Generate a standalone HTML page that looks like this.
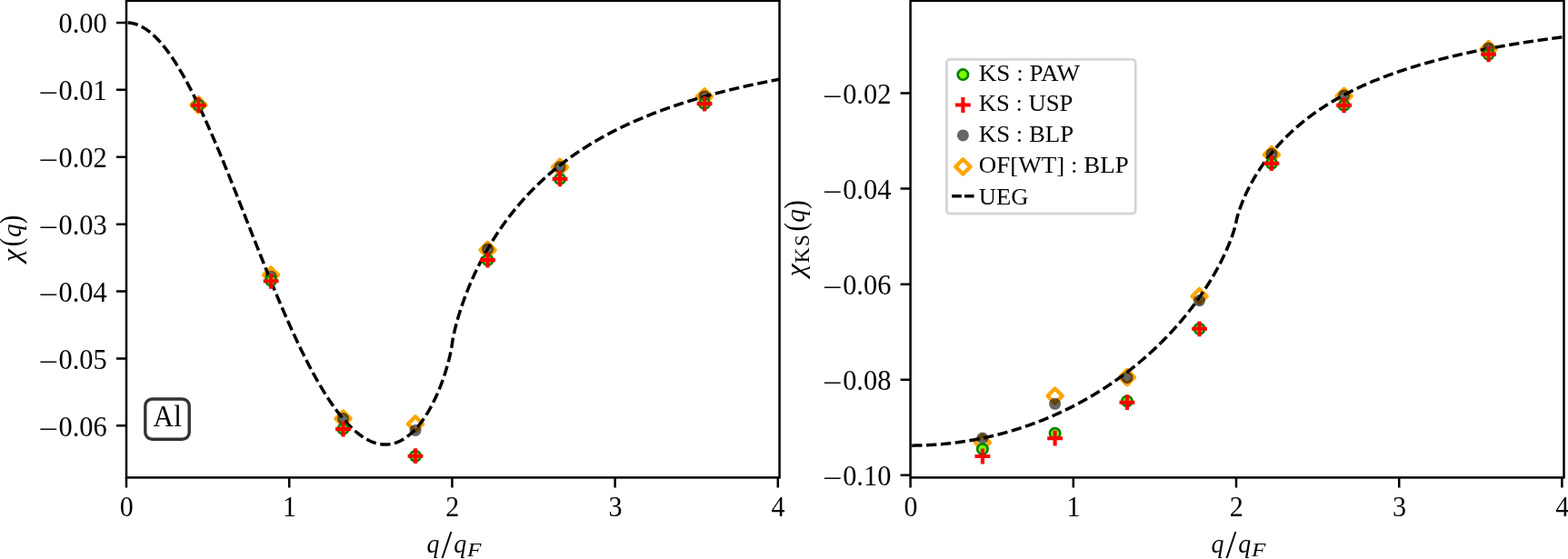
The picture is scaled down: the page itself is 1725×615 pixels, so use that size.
<!DOCTYPE html>
<html lang="en"><head><meta charset="utf-8"><title>Response functions of Al</title>
<style>html,body{margin:0;padding:0;background:#fff;overflow:hidden}svg{display:block}</style></head>
<body>
<svg width="1725" height="615" viewBox="0 0 1725 615" font-family='"Liberation Serif", serif' fill="#000">
<rect x="0" y="0" width="1725" height="615" fill="#fff"/>
<defs>
<clipPath id="clip1"><rect x="139" y="0.85" width="718.55" height="524.55"/></clipPath>
<clipPath id="clip2"><rect x="1001.6" y="0.85" width="718.9" height="524.55"/></clipPath>
</defs>
<g clip-path="url(#clip1)">
<path d="M218.4 107.3L226.5 115.4L218.4 123.5L210.3 115.4Z" fill="none" stroke="#ffa500" stroke-width="4.3" stroke-linejoin="round"/>
<path d="M298.1 294.4L306.2 302.5L298.1 310.6L290 302.5Z" fill="none" stroke="#ffa500" stroke-width="4.3" stroke-linejoin="round"/>
<path d="M377.5 452.5L385.6 460.6L377.5 468.7L369.4 460.6Z" fill="none" stroke="#ffa500" stroke-width="4.3" stroke-linejoin="round"/>
<path d="M457 458.3L465.1 466.4L457 474.5L448.9 466.4Z" fill="none" stroke="#ffa500" stroke-width="4.3" stroke-linejoin="round"/>
<path d="M536.5 266.8L544.6 274.9L536.5 283L528.4 274.9Z" fill="none" stroke="#ffa500" stroke-width="4.3" stroke-linejoin="round"/>
<path d="M616 175.8L624.1 183.9L616 192L607.9 183.9Z" fill="none" stroke="#ffa500" stroke-width="4.3" stroke-linejoin="round"/>
<path d="M775.05 98.2L783.15 106.3L775.05 114.4L766.95 106.3Z" fill="none" stroke="#ffa500" stroke-width="4.3" stroke-linejoin="round"/>
</g>
<polyline clip-path="url(#clip1)" points="139.00,24.90 139.60,24.91 140.20,24.92 140.80,24.95 141.40,24.99 142.00,25.04 142.60,25.10 143.20,25.18 143.79,25.26 144.39,25.36 144.99,25.46 145.59,25.58 146.19,25.71 146.79,25.85 147.39,26.00 147.99,26.17 148.59,26.34 149.19,26.53 149.79,26.72 150.39,26.93 150.99,27.15 151.59,27.38 152.19,27.62 152.78,27.87 153.38,28.14 153.98,28.41 154.58,28.70 155.18,29.00 155.78,29.30 156.38,29.62 156.98,29.95 157.58,30.29 158.18,30.64 158.78,31.01 159.38,31.38 159.98,31.76 160.58,32.16 161.18,32.57 161.77,32.98 162.37,33.41 162.97,33.85 163.57,34.30 164.17,34.76 164.77,35.23 165.37,35.71 165.97,36.20 166.57,36.70 167.17,37.22 167.77,37.74 168.37,38.28 168.97,38.82 169.57,39.38 170.16,39.94 170.76,40.52 171.36,41.10 171.96,41.70 172.56,42.31 173.16,42.92 173.76,43.55 174.36,44.19 174.96,44.84 175.56,45.49 176.16,46.16 176.76,46.84 177.36,47.53 177.96,48.22 178.56,48.93 179.15,49.65 179.75,50.38 180.35,51.11 180.95,51.86 181.55,52.61 182.15,53.38 182.75,54.16 183.35,54.94 183.95,55.74 184.55,56.54 185.15,57.35 185.75,58.18 186.35,59.01 186.95,59.85 187.55,60.70 188.14,61.56 188.74,62.43 189.34,63.31 189.94,64.19 190.54,65.09 191.14,65.99 191.74,66.91 192.34,67.83 192.94,68.76 193.54,69.70 194.14,70.65 194.74,71.61 195.34,72.57 195.94,73.55 196.54,74.53 197.13,75.52 197.73,76.52 198.33,77.53 198.93,78.54 199.53,79.57 200.13,80.60 200.73,81.64 201.33,82.69 201.93,83.75 202.53,84.81 203.13,85.88 203.73,86.96 204.33,88.05 204.93,89.14 205.53,90.24 206.12,91.35 206.72,92.47 207.32,93.60 207.92,94.73 208.52,95.87 209.12,97.01 209.72,98.17 210.32,99.33 210.92,100.50 211.52,101.67 212.12,102.85 212.72,104.04 213.32,105.24 213.92,106.44 214.52,107.65 215.11,108.86 215.71,110.08 216.31,111.31 216.91,112.55 217.51,113.79 218.11,115.03 218.71,116.29 219.31,117.54 219.91,118.81 220.51,120.08 221.11,121.36 221.71,122.64 222.31,123.93 222.91,125.22 223.50,126.52 224.10,127.83 224.70,129.14 225.30,130.46 225.90,131.78 226.50,133.10 227.10,134.44 227.70,135.77 228.30,137.12 228.90,138.46 229.50,139.82 230.10,141.17 230.70,142.54 231.30,143.90 231.90,145.27 232.49,146.65 233.09,148.03 233.69,149.41 234.29,150.80 234.89,152.20 235.49,153.60 236.09,155.00 236.69,156.40 237.29,157.81 237.89,159.23 238.49,160.65 239.09,162.07 239.69,163.49 240.29,164.92 240.89,166.36 241.48,167.79 242.08,169.23 242.68,170.68 243.28,172.12 243.88,173.57 244.48,175.03 245.08,176.48 245.68,177.94 246.28,179.40 246.88,180.87 247.48,182.34 248.08,183.81 248.68,185.28 249.28,186.76 249.88,188.23 250.47,189.72 251.07,191.20 251.67,192.69 252.27,194.17 252.87,195.66 253.47,197.16 254.07,198.65 254.67,200.15 255.27,201.65 255.87,203.15 256.47,204.65 257.07,206.15 257.67,207.66 258.27,209.16 258.87,210.67 259.46,212.18 260.06,213.69 260.66,215.21 261.26,216.72 261.86,218.23 262.46,219.75 263.06,221.27 263.66,222.79 264.26,224.30 264.86,225.82 265.46,227.34 266.06,228.87 266.66,230.39 267.26,231.91 267.86,233.43 268.45,234.96 269.05,236.48 269.65,238.00 270.25,239.53 270.85,241.05 271.45,242.58 272.05,244.10 272.65,245.62 273.25,247.15 273.85,248.67 274.45,250.20 275.05,251.72 275.65,253.24 276.25,254.76 276.85,256.29 277.44,257.81 278.04,259.33 278.64,260.85 279.24,262.37 279.84,263.89 280.44,265.40 281.04,266.92 281.64,268.44 282.24,269.95 282.84,271.46 283.44,272.98 284.04,274.49 284.64,276.00 285.24,277.51 285.83,279.01 286.43,280.52 287.03,282.02 287.63,283.52 288.23,285.02 288.83,286.52 289.43,288.02 290.03,289.51 290.63,291.01 291.23,292.50 291.83,293.99 292.43,295.47 293.03,296.96 293.63,298.44 294.23,299.92 294.82,301.40 295.42,302.87 296.02,304.34 296.62,305.81 297.22,307.28 297.82,308.75 298.42,310.21 299.02,311.67 299.62,313.13 300.22,314.58 300.82,316.03 301.42,317.48 302.02,318.92 302.62,320.37 303.22,321.80 303.81,323.24 304.41,324.67 305.01,326.10 305.61,327.53 306.21,328.95 306.81,330.37 307.41,331.78 308.01,333.19 308.61,334.60 309.21,336.01 309.81,337.41 310.41,338.80 311.01,340.20 311.61,341.59 312.21,342.97 312.80,344.35 313.40,345.73 314.00,347.10 314.60,348.47 315.20,349.84 315.80,351.20 316.40,352.55 317.00,353.90 317.60,355.25 318.20,356.59 318.80,357.93 319.40,359.27 320.00,360.60 320.60,361.92 321.20,363.24 321.79,364.56 322.39,365.87 322.99,367.17 323.59,368.48 324.19,369.77 324.79,371.06 325.39,372.35 325.99,373.63 326.59,374.91 327.19,376.18 327.79,377.44 328.39,378.71 328.99,379.96 329.59,381.21 330.19,382.46 330.78,383.70 331.38,384.93 331.98,386.16 332.58,387.38 333.18,388.60 333.78,389.81 334.38,391.02 334.98,392.22 335.58,393.41 336.18,394.60 336.78,395.79 337.38,396.96 337.98,398.14 338.58,399.30 339.17,400.46 339.77,401.62 340.37,402.76 340.97,403.91 341.57,405.04 342.17,406.17 342.77,407.29 343.37,408.41 343.97,409.52 344.57,410.63 345.17,411.73 345.77,412.82 346.37,413.90 346.97,414.98 347.57,416.06 348.16,417.12 348.76,418.18 349.36,419.24 349.96,420.28 350.56,421.32 351.16,422.36 351.76,423.38 352.36,424.40 352.96,425.42 353.56,426.42 354.16,427.42 354.76,428.41 355.36,429.40 355.96,430.38 356.56,431.35 357.15,432.31 357.75,433.27 358.35,434.22 358.95,435.17 359.55,436.10 360.15,437.03 360.75,437.95 361.35,438.87 361.95,439.77 362.55,440.67 363.15,441.57 363.75,442.45 364.35,443.33 364.95,444.20 365.55,445.06 366.14,445.92 366.74,446.77 367.34,447.61 367.94,448.44 368.54,449.27 369.14,450.09 369.74,450.90 370.34,451.70 370.94,452.49 371.54,453.28 372.14,454.06 372.74,454.83 373.34,455.59 373.94,456.35 374.54,457.10 375.13,457.84 375.73,458.57 376.33,459.29 376.93,460.01 377.53,460.72 378.13,461.42 378.73,462.11 379.33,462.79 379.93,463.47 380.53,464.14 381.13,464.80 381.73,465.45 382.33,466.09 382.93,466.72 383.53,467.35 384.12,467.97 384.72,468.58 385.32,469.18 385.92,469.77 386.52,470.36 387.12,470.93 387.72,471.50 388.32,472.06 388.92,472.61 389.52,473.15 390.12,473.69 390.72,474.21 391.32,474.73 391.92,475.23 392.51,475.73 393.11,476.22 393.71,476.70 394.31,477.18 394.91,477.64 395.51,478.10 396.11,478.54 396.71,478.98 397.31,479.41 397.91,479.83 398.51,480.24 399.11,480.64 399.71,481.03 400.31,481.41 400.91,481.79 401.50,482.15 402.10,482.51 402.70,482.86 403.30,483.20 403.90,483.52 404.50,483.84 405.10,484.15 405.70,484.46 406.30,484.75 406.90,485.03 407.50,485.30 408.10,485.57 408.70,485.82 409.30,486.07 409.90,486.30 410.49,486.53 411.09,486.74 411.69,486.95 412.29,487.15 412.89,487.34 413.49,487.51 414.09,487.68 414.69,487.84 415.29,487.99 415.89,488.13 416.49,488.26 417.09,488.38 417.69,488.49 418.29,488.59 418.89,488.68 419.48,488.76 420.08,488.83 420.68,488.89 421.28,488.94 421.88,488.98 422.48,489.01 423.08,489.03 423.68,489.04 424.28,489.04 424.88,489.03 425.48,489.01 426.08,488.97 426.68,488.93 427.28,488.88 427.88,488.82 428.47,488.74 429.07,488.66 429.67,488.57 430.27,488.46 430.87,488.35 431.47,488.22 432.07,488.08 432.67,487.94 433.27,487.78 433.87,487.61 434.47,487.43 435.07,487.24 435.67,487.03 436.27,486.82 436.87,486.60 437.46,486.36 438.06,486.11 438.66,485.86 439.26,485.59 439.86,485.31 440.46,485.02 441.06,484.71 441.66,484.40 442.26,484.07 442.86,483.73 443.46,483.38 444.06,483.02 444.66,482.65 445.26,482.26 445.85,481.86 446.45,481.45 447.05,481.03 447.65,480.60 448.25,480.15 448.85,479.69 449.45,479.22 450.05,478.74 450.65,478.24 451.25,477.74 451.85,477.21 452.45,476.68 453.05,476.13 453.65,475.57 454.25,475.00 454.84,474.41 455.44,473.81 456.04,473.20 456.64,472.57 457.24,471.93 457.84,471.28 458.44,470.61 459.04,469.93 459.64,469.23 460.24,468.52 460.84,467.79 461.44,467.05 462.04,466.30 462.64,465.53 463.24,464.74 463.83,463.94 464.43,463.13 465.03,462.30 465.63,461.45 466.23,460.59 466.83,459.71 467.43,458.81 468.03,457.90 468.63,456.97 469.23,456.02 469.83,455.06 470.43,454.08 471.03,453.08 471.63,452.06 472.23,451.03 472.82,449.98 473.42,448.90 474.02,447.81 474.62,446.70 475.22,445.56 475.82,444.41 476.42,443.24 477.02,442.04 477.62,440.82 478.22,439.58 478.82,438.32 479.42,437.03 480.02,435.72 480.62,434.39 481.22,433.03 481.81,431.64 482.41,430.22 483.01,428.78 483.61,427.31 484.21,425.80 484.81,424.27 485.41,422.70 486.01,421.10 486.61,419.47 487.21,417.79 487.81,416.08 488.41,414.33 489.01,412.53 489.61,410.68 490.21,408.79 490.80,406.84 491.40,404.83 492.00,402.76 492.60,400.62 493.20,398.40 493.80,396.09 494.40,393.67 495.00,391.13 495.60,388.44 496.20,385.54 496.80,382.32 497.40,378.28 498.00,374.19 498.60,370.96 499.19,368.04 499.79,365.33 500.39,362.76 500.99,360.31 501.59,357.96 502.19,355.70 502.79,353.51 503.39,351.38 503.99,349.31 504.59,347.30 505.19,345.33 505.79,343.41 506.39,341.53 506.99,339.69 507.59,337.88 508.18,336.11 508.78,334.37 509.38,332.66 509.98,330.98 510.58,329.32 511.18,327.69 511.78,326.09 512.38,324.51 512.98,322.95 513.58,321.41 514.18,319.90 514.78,318.40 515.38,316.93 515.98,315.47 516.58,314.03 517.17,312.61 517.77,311.21 518.37,309.82 518.97,308.45 519.57,307.09 520.17,305.75 520.77,304.42 521.37,303.11 521.97,301.81 522.57,300.53 523.17,299.26 523.77,298.00 524.37,296.75 524.97,295.52 525.57,294.30 526.16,293.09 526.76,291.89 527.36,290.71 527.96,289.53 528.56,288.36 529.16,287.21 529.76,286.07 530.36,284.93 530.96,283.81 531.56,282.69 532.16,281.59 532.76,280.49 533.36,279.41 533.96,278.33 534.56,277.26 535.15,276.20 535.75,275.15 536.35,274.11 536.95,273.08 537.55,272.05 538.15,271.04 538.75,270.03 539.35,269.03 539.95,268.03 540.55,267.05 541.15,266.07 541.75,265.10 542.35,264.13 542.95,263.18 543.55,262.23 544.14,261.29 544.74,260.35 545.34,259.42 545.94,258.50 546.54,257.58 547.14,256.67 547.74,255.77 548.34,254.88 548.94,253.99 549.54,253.10 550.14,252.22 550.74,251.35 551.34,250.49 551.94,249.63 552.54,248.77 553.13,247.93 553.73,247.08 554.33,246.25 554.93,245.41 555.53,244.59 556.13,243.77 556.73,242.95 557.33,242.14 557.93,241.34 558.53,240.54 559.13,239.75 559.73,238.96 560.33,238.17 560.93,237.39 561.52,236.62 562.12,235.85 562.72,235.08 563.32,234.32 563.92,233.57 564.52,232.82 565.12,232.07 565.72,231.33 566.32,230.60 566.92,229.86 567.52,229.14 568.12,228.41 568.72,227.69 569.32,226.98 569.92,226.27 570.51,225.56 571.11,224.86 571.71,224.16 572.31,223.47 572.91,222.78 573.51,222.09 574.11,221.41 574.71,220.73 575.31,220.06 575.91,219.39 576.51,218.72 577.11,218.06 577.71,217.40 578.31,216.74 578.91,216.09 579.50,215.44 580.10,214.80 580.70,214.16 581.30,213.52 581.90,212.89 582.50,212.26 583.10,211.63 583.70,211.01 584.30,210.39 584.90,209.77 585.50,209.16 586.10,208.55 586.70,207.95 587.30,207.34 587.90,206.74 588.49,206.15 589.09,205.55 589.69,204.96 590.29,204.38 590.89,203.79 591.49,203.21 592.09,202.63 592.69,202.06 593.29,201.49 593.89,200.92 594.49,200.35 595.09,199.79 595.69,199.23 596.29,198.67 596.89,198.12 597.48,197.57 598.08,197.02 598.68,196.48 599.28,195.93 599.88,195.39 600.48,194.86 601.08,194.32 601.68,193.79 602.28,193.26 602.88,192.74 603.48,192.21 604.08,191.69 604.68,191.17 605.28,190.66 605.88,190.14 606.47,189.63 607.07,189.12 607.67,188.62 608.27,188.12 608.87,187.62 609.47,187.12 610.07,186.62 610.67,186.13 611.27,185.64 611.87,185.15 612.47,184.66 613.07,184.18 613.67,183.70 614.27,183.22 614.86,182.74 615.46,182.27 616.06,181.79 616.66,181.32 617.26,180.86 617.86,180.39 618.46,179.93 619.06,179.47 619.66,179.01 620.26,178.55 620.86,178.10 621.46,177.64 622.06,177.19 622.66,176.75 623.26,176.30 623.85,175.86 624.45,175.41 625.05,174.97 625.65,174.54 626.25,174.10 626.85,173.67 627.45,173.23 628.05,172.80 628.65,172.38 629.25,171.95 629.85,171.53 630.45,171.10 631.05,170.68 631.65,170.27 632.25,169.85 632.84,169.43 633.44,169.02 634.04,168.61 634.64,168.20 635.24,167.80 635.84,167.39 636.44,166.99 637.04,166.59 637.64,166.19 638.24,165.79 638.84,165.39 639.44,165.00 640.04,164.60 640.64,164.21 641.24,163.82 641.83,163.44 642.43,163.05 643.03,162.67 643.63,162.28 644.23,161.90 644.83,161.52 645.43,161.15 646.03,160.77 646.63,160.40 647.23,160.02 647.83,159.65 648.43,159.28 649.03,158.91 649.63,158.55 650.23,158.18 650.82,157.82 651.42,157.46 652.02,157.10 652.62,156.74 653.22,156.38 653.82,156.03 654.42,155.67 655.02,155.32 655.62,154.97 656.22,154.62 656.82,154.27 657.42,153.93 658.02,153.58 658.62,153.24 659.22,152.90 659.81,152.55 660.41,152.22 661.01,151.88 661.61,151.54 662.21,151.21 662.81,150.87 663.41,150.54 664.01,150.21 664.61,149.88 665.21,149.55 665.81,149.22 666.41,148.90 667.01,148.57 667.61,148.25 668.20,147.93 668.80,147.61 669.40,147.29 670.00,146.97 670.60,146.66 671.20,146.34 671.80,146.03 672.40,145.71 673.00,145.40 673.60,145.09 674.20,144.78 674.80,144.48 675.40,144.17 676.00,143.86 676.60,143.56 677.19,143.26 677.79,142.96 678.39,142.65 678.99,142.36 679.59,142.06 680.19,141.76 680.79,141.47 681.39,141.17 681.99,140.88 682.59,140.58 683.19,140.29 683.79,140.00 684.39,139.72 684.99,139.43 685.59,139.14 686.18,138.86 686.78,138.57 687.38,138.29 687.98,138.01 688.58,137.73 689.18,137.45 689.78,137.17 690.38,136.89 690.98,136.61 691.58,136.34 692.18,136.06 692.78,135.79 693.38,135.52 693.98,135.24 694.58,134.97 695.17,134.70 695.77,134.44 696.37,134.17 696.97,133.90 697.57,133.64 698.17,133.37 698.77,133.11 699.37,132.85 699.97,132.59 700.57,132.33 701.17,132.07 701.77,131.81 702.37,131.55 702.97,131.29 703.57,131.04 704.16,130.78 704.76,130.53 705.36,130.28 705.96,130.03 706.56,129.77 707.16,129.52 707.76,129.28 708.36,129.03 708.96,128.78 709.56,128.53 710.16,128.29 710.76,128.04 711.36,127.80 711.96,127.56 712.56,127.32 713.15,127.08 713.75,126.84 714.35,126.60 714.95,126.36 715.55,126.12 716.15,125.88 716.75,125.65 717.35,125.41 717.95,125.18 718.55,124.95 719.15,124.71 719.75,124.48 720.35,124.25 720.95,124.02 721.54,123.79 722.14,123.56 722.74,123.34 723.34,123.11 723.94,122.89 724.54,122.66 725.14,122.44 725.74,122.21 726.34,121.99 726.94,121.77 727.54,121.55 728.14,121.33 728.74,121.11 729.34,120.89 729.94,120.67 730.53,120.45 731.13,120.24 731.73,120.02 732.33,119.81 732.93,119.59 733.53,119.38 734.13,119.17 734.73,118.96 735.33,118.74 735.93,118.53 736.53,118.32 737.13,118.12 737.73,117.91 738.33,117.70 738.93,117.49 739.52,117.29 740.12,117.08 740.72,116.88 741.32,116.67 741.92,116.47 742.52,116.27 743.12,116.06 743.72,115.86 744.32,115.66 744.92,115.46 745.52,115.26 746.12,115.07 746.72,114.87 747.32,114.67 747.92,114.47 748.51,114.28 749.11,114.08 749.71,113.89 750.31,113.69 750.91,113.50 751.51,113.31 752.11,113.12 752.71,112.93 753.31,112.73 753.91,112.54 754.51,112.36 755.11,112.17 755.71,111.98 756.31,111.79 756.91,111.60 757.50,111.42 758.10,111.23 758.70,111.05 759.30,110.86 759.90,110.68 760.50,110.50 761.10,110.31 761.70,110.13 762.30,109.95 762.90,109.77 763.50,109.59 764.10,109.41 764.70,109.23 765.30,109.05 765.90,108.87 766.49,108.70 767.09,108.52 767.69,108.34 768.29,108.17 768.89,107.99 769.49,107.82 770.09,107.65 770.69,107.47 771.29,107.30 771.89,107.13 772.49,106.96 773.09,106.78 773.69,106.61 774.29,106.44 774.88,106.27 775.48,106.11 776.08,105.94 776.68,105.77 777.28,105.60 777.88,105.44 778.48,105.27 779.08,105.10 779.68,104.94 780.28,104.77 780.88,104.61 781.48,104.45 782.08,104.28 782.68,104.12 783.28,103.96 783.87,103.80 784.47,103.64 785.07,103.47 785.67,103.31 786.27,103.16 786.87,103.00 787.47,102.84 788.07,102.68 788.67,102.52 789.27,102.36 789.87,102.21 790.47,102.05 791.07,101.90 791.67,101.74 792.27,101.59 792.86,101.43 793.46,101.28 794.06,101.13 794.66,100.97 795.26,100.82 795.86,100.67 796.46,100.52 797.06,100.37 797.66,100.22 798.26,100.07 798.86,99.92 799.46,99.77 800.06,99.62 800.66,99.47 801.26,99.32 801.85,99.18 802.45,99.03 803.05,98.88 803.65,98.74 804.25,98.59 804.85,98.45 805.45,98.30 806.05,98.16 806.65,98.01 807.25,97.87 807.85,97.73 808.45,97.59 809.05,97.44 809.65,97.30 810.25,97.16 810.84,97.02 811.44,96.88 812.04,96.74 812.64,96.60 813.24,96.46 813.84,96.32 814.44,96.18 815.04,96.05 815.64,95.91 816.24,95.77 816.84,95.64 817.44,95.50 818.04,95.36 818.64,95.23 819.24,95.09 819.83,94.96 820.43,94.82 821.03,94.69 821.63,94.56 822.23,94.42 822.83,94.29 823.43,94.16 824.03,94.03 824.63,93.90 825.23,93.77 825.83,93.63 826.43,93.50 827.03,93.37 827.63,93.24 828.23,93.12 828.82,92.99 829.42,92.86 830.02,92.73 830.62,92.60 831.22,92.48 831.82,92.35 832.42,92.22 833.02,92.10 833.62,91.97 834.22,91.84 834.82,91.72 835.42,91.59 836.02,91.47 836.62,91.35 837.21,91.22 837.81,91.10 838.41,90.98 839.01,90.85 839.61,90.73 840.21,90.61 840.81,90.49 841.41,90.37 842.01,90.24 842.61,90.12 843.21,90.00 843.81,89.88 844.41,89.76 845.01,89.65 845.61,89.53 846.20,89.41 846.80,89.29 847.40,89.17 848.00,89.05 848.60,88.94 849.20,88.82 849.80,88.70 850.40,88.59 851.00,88.47 851.60,88.36 852.20,88.24 852.80,88.12 853.40,88.01 854.00,87.90 854.60,87.78 855.19,87.67 855.79,87.55 856.39,87.44 856.99,87.33 857.59,87.22" fill="none" stroke="#000" stroke-width="3.5" stroke-dasharray="11.29 4.58" stroke-dashoffset="-1.6" stroke-linejoin="round"/>
<g clip-path="url(#clip1)">
<circle cx="218.4" cy="115.4" r="6.5" fill="#000" fill-opacity="0.6"/>
<circle cx="298.1" cy="304.3" r="6.5" fill="#000" fill-opacity="0.6"/>
<circle cx="377.5" cy="460.6" r="6.5" fill="#000" fill-opacity="0.6"/>
<circle cx="457" cy="473.4" r="6.5" fill="#000" fill-opacity="0.6"/>
<circle cx="536.5" cy="273.9" r="6.5" fill="#000" fill-opacity="0.6"/>
<circle cx="616" cy="183.8" r="6.5" fill="#000" fill-opacity="0.6"/>
<circle cx="775.05" cy="105.9" r="6.5" fill="#000" fill-opacity="0.6"/>
<circle cx="218.4" cy="115.6" r="5.7" fill="#7cfc00" stroke="#008000" stroke-width="2.6"/>
<circle cx="298.1" cy="308.6" r="5.7" fill="#7cfc00" stroke="#008000" stroke-width="2.6"/>
<circle cx="377.5" cy="471.9" r="5.7" fill="#7cfc00" stroke="#008000" stroke-width="2.6"/>
<circle cx="457" cy="501.7" r="5.7" fill="#7cfc00" stroke="#008000" stroke-width="2.6"/>
<circle cx="536.5" cy="286.1" r="5.7" fill="#7cfc00" stroke="#008000" stroke-width="2.6"/>
<circle cx="616" cy="196.9" r="5.7" fill="#7cfc00" stroke="#008000" stroke-width="2.6"/>
<circle cx="775.05" cy="114.1" r="5.7" fill="#7cfc00" stroke="#008000" stroke-width="2.6"/>
<path d="M210 115.7H226.8M218.4 107.3V124.1" fill="none" stroke="#ff0000" stroke-width="4.1"/>
<path d="M289.7 309.3H306.5M298.1 300.9V317.7" fill="none" stroke="#ff0000" stroke-width="4.1"/>
<path d="M369.1 472.1H385.9M377.5 463.7V480.5" fill="none" stroke="#ff0000" stroke-width="4.1"/>
<path d="M448.6 501.7H465.4M457 493.3V510.1" fill="none" stroke="#ff0000" stroke-width="4.1"/>
<path d="M528.1 286.1H544.9M536.5 277.7V294.5" fill="none" stroke="#ff0000" stroke-width="4.1"/>
<path d="M607.6 196.9H624.4M616 188.5V205.3" fill="none" stroke="#ff0000" stroke-width="4.1"/>
<path d="M766.65 114.1H783.45M775.05 105.7V122.5" fill="none" stroke="#ff0000" stroke-width="4.1"/>
</g>
<path d="M139 525.4v11.0M318.2 525.4v11.0M497.4 525.4v11.0M676.6 525.4v11.0M855.8 525.4v11.0M139 24.9h-11.0M139 98.81h-11.0M139 172.72h-11.0M139 246.63h-11.0M139 320.54h-11.0M139 394.45h-11.0M139 468.36h-11.0" stroke="#000" stroke-width="2.5" fill="none"/>
<rect x="139" y="0.85" width="718.55" height="524.55" fill="none" stroke="#000" stroke-width="2.5"/>
<text transform="translate(139.3 567.9) scale(1 1.02)" font-size="30" text-anchor="middle" >0</text>
<text transform="translate(318.5 567.9) scale(1 1.02)" font-size="30" text-anchor="middle" >1</text>
<text transform="translate(497.7 567.9) scale(1 1.02)" font-size="30" text-anchor="middle" >2</text>
<text transform="translate(676.9 567.9) scale(1 1.02)" font-size="30" text-anchor="middle" >3</text>
<text transform="translate(856.1 567.9) scale(1 1.02)" font-size="30" text-anchor="middle" >4</text>
<text transform="translate(117.8 36.2) scale(1.015 1.045)" font-size="30" text-anchor="end" >0.00</text>
<text transform="translate(117.8 110.11) scale(1.015 1.045)" font-size="30" text-anchor="end" >0.01</text>
<text transform="translate(42.7 112.01) scale(1.28 1)" x="0" y="0" font-size="30">−</text>
<text transform="translate(117.8 184.02) scale(1.015 1.045)" font-size="30" text-anchor="end" >0.02</text>
<text transform="translate(42.7 185.92) scale(1.28 1)" x="0" y="0" font-size="30">−</text>
<text transform="translate(117.8 257.93) scale(1.015 1.045)" font-size="30" text-anchor="end" >0.03</text>
<text transform="translate(42.7 259.83) scale(1.28 1)" x="0" y="0" font-size="30">−</text>
<text transform="translate(117.8 331.84) scale(1.015 1.045)" font-size="30" text-anchor="end" >0.04</text>
<text transform="translate(42.7 333.74) scale(1.28 1)" x="0" y="0" font-size="30">−</text>
<text transform="translate(117.8 405.75) scale(1.015 1.045)" font-size="30" text-anchor="end" >0.05</text>
<text transform="translate(42.7 407.65) scale(1.28 1)" x="0" y="0" font-size="30">−</text>
<text transform="translate(117.8 479.66) scale(1.015 1.045)" font-size="30" text-anchor="end" >0.06</text>
<text transform="translate(42.7 481.56) scale(1.28 1)" x="0" y="0" font-size="30">−</text>
<g font-size="30">
<text transform="translate(469.6 607.8) scale(0.93 1)" font-size="30" text-anchor="start" font-style="italic">q</text>
<text transform="translate(485.6 614.3) scale(0.95 1)" font-size="45" text-anchor="start" >/</text>
<text transform="translate(499.3 607.8) scale(0.93 1)" font-size="30" text-anchor="start" font-style="italic">q</text>
<text transform="translate(513.9 612.2) scale(1.2 1)" font-size="21" text-anchor="start" font-style="italic">F</text>
</g>
<g clip-path="url(#clip2)">
<path d="M1080.9 478.7L1089 486.8L1080.9 494.9L1072.8 486.8Z" fill="none" stroke="#ffa500" stroke-width="4.3" stroke-linejoin="round"/>
<path d="M1160.6 427.5L1168.7 435.6L1160.6 443.7L1152.5 435.6Z" fill="none" stroke="#ffa500" stroke-width="4.3" stroke-linejoin="round"/>
<path d="M1239.9 407L1248 415.1L1239.9 423.2L1231.8 415.1Z" fill="none" stroke="#ffa500" stroke-width="4.3" stroke-linejoin="round"/>
<path d="M1319.5 317.9L1327.6 326L1319.5 334.1L1311.4 326Z" fill="none" stroke="#ffa500" stroke-width="4.3" stroke-linejoin="round"/>
<path d="M1398.9 162.1L1407 170.2L1398.9 178.3L1390.8 170.2Z" fill="none" stroke="#ffa500" stroke-width="4.3" stroke-linejoin="round"/>
<path d="M1478.6 97.7L1486.7 105.8L1478.6 113.9L1470.5 105.8Z" fill="none" stroke="#ffa500" stroke-width="4.3" stroke-linejoin="round"/>
<path d="M1637.6 46.1L1645.7 54.2L1637.6 62.3L1629.5 54.2Z" fill="none" stroke="#ffa500" stroke-width="4.3" stroke-linejoin="round"/>
</g>
<polyline clip-path="url(#clip2)" points="1001.60,490.15 1002.20,490.15 1002.80,490.15 1003.40,490.14 1004.00,490.14 1004.60,490.14 1005.20,490.13 1005.80,490.13 1006.39,490.12 1006.99,490.11 1007.59,490.10 1008.19,490.09 1008.79,490.08 1009.39,490.07 1009.99,490.06 1010.59,490.04 1011.19,490.03 1011.79,490.01 1012.39,490.00 1012.99,489.98 1013.59,489.96 1014.19,489.95 1014.79,489.93 1015.38,489.90 1015.98,489.88 1016.58,489.86 1017.18,489.84 1017.78,489.81 1018.38,489.79 1018.98,489.76 1019.58,489.73 1020.18,489.71 1020.78,489.68 1021.38,489.65 1021.98,489.62 1022.58,489.58 1023.18,489.55 1023.78,489.52 1024.37,489.48 1024.97,489.45 1025.57,489.41 1026.17,489.37 1026.77,489.34 1027.37,489.30 1027.97,489.26 1028.57,489.22 1029.17,489.17 1029.77,489.13 1030.37,489.09 1030.97,489.04 1031.57,489.00 1032.17,488.95 1032.76,488.90 1033.36,488.86 1033.96,488.81 1034.56,488.76 1035.16,488.71 1035.76,488.65 1036.36,488.60 1036.96,488.55 1037.56,488.49 1038.16,488.44 1038.76,488.38 1039.36,488.32 1039.96,488.26 1040.56,488.20 1041.16,488.14 1041.75,488.08 1042.35,488.02 1042.95,487.96 1043.55,487.89 1044.15,487.83 1044.75,487.76 1045.35,487.69 1045.95,487.63 1046.55,487.56 1047.15,487.49 1047.75,487.42 1048.35,487.34 1048.95,487.27 1049.55,487.20 1050.15,487.12 1050.74,487.05 1051.34,486.97 1051.94,486.89 1052.54,486.82 1053.14,486.74 1053.74,486.66 1054.34,486.58 1054.94,486.49 1055.54,486.41 1056.14,486.33 1056.74,486.24 1057.34,486.16 1057.94,486.07 1058.54,485.98 1059.14,485.89 1059.73,485.80 1060.33,485.71 1060.93,485.62 1061.53,485.53 1062.13,485.44 1062.73,485.34 1063.33,485.25 1063.93,485.15 1064.53,485.05 1065.13,484.96 1065.73,484.86 1066.33,484.76 1066.93,484.66 1067.53,484.55 1068.13,484.45 1068.72,484.35 1069.32,484.24 1069.92,484.14 1070.52,484.03 1071.12,483.92 1071.72,483.81 1072.32,483.70 1072.92,483.59 1073.52,483.48 1074.12,483.37 1074.72,483.26 1075.32,483.14 1075.92,483.03 1076.52,482.91 1077.12,482.79 1077.71,482.67 1078.31,482.55 1078.91,482.43 1079.51,482.31 1080.11,482.19 1080.71,482.07 1081.31,481.94 1081.91,481.82 1082.51,481.69 1083.11,481.56 1083.71,481.44 1084.31,481.31 1084.91,481.18 1085.51,481.05 1086.10,480.91 1086.70,480.78 1087.30,480.65 1087.90,480.51 1088.50,480.38 1089.10,480.24 1089.70,480.10 1090.30,479.96 1090.90,479.82 1091.50,479.68 1092.10,479.54 1092.70,479.40 1093.30,479.25 1093.90,479.11 1094.50,478.96 1095.09,478.82 1095.69,478.67 1096.29,478.52 1096.89,478.37 1097.49,478.22 1098.09,478.07 1098.69,477.91 1099.29,477.76 1099.89,477.61 1100.49,477.45 1101.09,477.29 1101.69,477.13 1102.29,476.98 1102.89,476.82 1103.49,476.65 1104.08,476.49 1104.68,476.33 1105.28,476.17 1105.88,476.00 1106.48,475.83 1107.08,475.67 1107.68,475.50 1108.28,475.33 1108.88,475.16 1109.48,474.99 1110.08,474.82 1110.68,474.64 1111.28,474.47 1111.88,474.29 1112.48,474.12 1113.07,473.94 1113.67,473.76 1114.27,473.58 1114.87,473.40 1115.47,473.22 1116.07,473.04 1116.67,472.85 1117.27,472.67 1117.87,472.48 1118.47,472.30 1119.07,472.11 1119.67,471.92 1120.27,471.73 1120.87,471.54 1121.47,471.35 1122.06,471.15 1122.66,470.96 1123.26,470.77 1123.86,470.57 1124.46,470.37 1125.06,470.17 1125.66,469.97 1126.26,469.77 1126.86,469.57 1127.46,469.37 1128.06,469.17 1128.66,468.96 1129.26,468.75 1129.86,468.55 1130.46,468.34 1131.05,468.13 1131.65,467.92 1132.25,467.71 1132.85,467.50 1133.45,467.28 1134.05,467.07 1134.65,466.85 1135.25,466.64 1135.85,466.42 1136.45,466.20 1137.05,465.98 1137.65,465.76 1138.25,465.54 1138.85,465.31 1139.45,465.09 1140.04,464.86 1140.64,464.64 1141.24,464.41 1141.84,464.18 1142.44,463.95 1143.04,463.72 1143.64,463.49 1144.24,463.25 1144.84,463.02 1145.44,462.78 1146.04,462.54 1146.64,462.31 1147.24,462.07 1147.84,461.83 1148.43,461.59 1149.03,461.34 1149.63,461.10 1150.23,460.85 1150.83,460.61 1151.43,460.36 1152.03,460.11 1152.63,459.86 1153.23,459.61 1153.83,459.36 1154.43,459.11 1155.03,458.85 1155.63,458.60 1156.23,458.34 1156.83,458.08 1157.42,457.83 1158.02,457.57 1158.62,457.30 1159.22,457.04 1159.82,456.78 1160.42,456.51 1161.02,456.25 1161.62,455.98 1162.22,455.71 1162.82,455.44 1163.42,455.17 1164.02,454.90 1164.62,454.63 1165.22,454.35 1165.82,454.08 1166.41,453.80 1167.01,453.52 1167.61,453.24 1168.21,452.96 1168.81,452.68 1169.41,452.40 1170.01,452.11 1170.61,451.83 1171.21,451.54 1171.81,451.25 1172.41,450.97 1173.01,450.68 1173.61,450.38 1174.21,450.09 1174.81,449.80 1175.40,449.50 1176.00,449.21 1176.60,448.91 1177.20,448.61 1177.80,448.31 1178.40,448.01 1179.00,447.70 1179.60,447.40 1180.20,447.09 1180.80,446.79 1181.40,446.48 1182.00,446.17 1182.60,445.86 1183.20,445.55 1183.80,445.23 1184.39,444.92 1184.99,444.60 1185.59,444.28 1186.19,443.97 1186.79,443.65 1187.39,443.32 1187.99,443.00 1188.59,442.68 1189.19,442.35 1189.79,442.03 1190.39,441.70 1190.99,441.37 1191.59,441.04 1192.19,440.71 1192.79,440.37 1193.38,440.04 1193.98,439.70 1194.58,439.36 1195.18,439.03 1195.78,438.69 1196.38,438.34 1196.98,438.00 1197.58,437.66 1198.18,437.31 1198.78,436.96 1199.38,436.61 1199.98,436.26 1200.58,435.91 1201.18,435.56 1201.77,435.21 1202.37,434.85 1202.97,434.49 1203.57,434.13 1204.17,433.77 1204.77,433.41 1205.37,433.05 1205.97,432.68 1206.57,432.32 1207.17,431.95 1207.77,431.58 1208.37,431.21 1208.97,430.84 1209.57,430.47 1210.17,430.09 1210.76,429.72 1211.36,429.34 1211.96,428.96 1212.56,428.58 1213.16,428.20 1213.76,427.81 1214.36,427.43 1214.96,427.04 1215.56,426.65 1216.16,426.26 1216.76,425.87 1217.36,425.48 1217.96,425.08 1218.56,424.68 1219.16,424.29 1219.75,423.89 1220.35,423.49 1220.95,423.08 1221.55,422.68 1222.15,422.27 1222.75,421.87 1223.35,421.46 1223.95,421.05 1224.55,420.63 1225.15,420.22 1225.75,419.80 1226.35,419.39 1226.95,418.97 1227.55,418.55 1228.15,418.13 1228.74,417.70 1229.34,417.28 1229.94,416.85 1230.54,416.42 1231.14,415.99 1231.74,415.56 1232.34,415.12 1232.94,414.69 1233.54,414.25 1234.14,413.81 1234.74,413.37 1235.34,412.92 1235.94,412.48 1236.54,412.03 1237.14,411.59 1237.73,411.14 1238.33,410.68 1238.93,410.23 1239.53,409.77 1240.13,409.32 1240.73,408.86 1241.33,408.40 1241.93,407.93 1242.53,407.47 1243.13,407.00 1243.73,406.53 1244.33,406.06 1244.93,405.59 1245.53,405.12 1246.13,404.64 1246.72,404.16 1247.32,403.68 1247.92,403.20 1248.52,402.72 1249.12,402.23 1249.72,401.75 1250.32,401.26 1250.92,400.76 1251.52,400.27 1252.12,399.78 1252.72,399.28 1253.32,398.78 1253.92,398.28 1254.52,397.77 1255.11,397.27 1255.71,396.76 1256.31,396.25 1256.91,395.74 1257.51,395.22 1258.11,394.71 1258.71,394.19 1259.31,393.67 1259.91,393.14 1260.51,392.62 1261.11,392.09 1261.71,391.56 1262.31,391.03 1262.91,390.50 1263.51,389.96 1264.10,389.42 1264.70,388.88 1265.30,388.34 1265.90,387.79 1266.50,387.25 1267.10,386.70 1267.70,386.14 1268.30,385.59 1268.90,385.03 1269.50,384.47 1270.10,383.91 1270.70,383.35 1271.30,382.78 1271.90,382.21 1272.50,381.64 1273.09,381.07 1273.69,380.49 1274.29,379.91 1274.89,379.33 1275.49,378.75 1276.09,378.16 1276.69,377.57 1277.29,376.98 1277.89,376.39 1278.49,375.79 1279.09,375.19 1279.69,374.59 1280.29,373.98 1280.89,373.37 1281.49,372.76 1282.08,372.15 1282.68,371.54 1283.28,370.92 1283.88,370.29 1284.48,369.67 1285.08,369.04 1285.68,368.41 1286.28,367.78 1286.88,367.14 1287.48,366.50 1288.08,365.86 1288.68,365.22 1289.28,364.57 1289.88,363.92 1290.48,363.26 1291.07,362.61 1291.67,361.95 1292.27,361.28 1292.87,360.62 1293.47,359.95 1294.07,359.27 1294.67,358.60 1295.27,357.92 1295.87,357.23 1296.47,356.55 1297.07,355.86 1297.67,355.16 1298.27,354.47 1298.87,353.77 1299.47,353.06 1300.06,352.35 1300.66,351.64 1301.26,350.93 1301.86,350.21 1302.46,349.49 1303.06,348.76 1303.66,348.03 1304.26,347.30 1304.86,346.56 1305.46,345.82 1306.06,345.07 1306.66,344.32 1307.26,343.57 1307.86,342.81 1308.45,342.05 1309.05,341.28 1309.65,340.51 1310.25,339.74 1310.85,338.96 1311.45,338.17 1312.05,337.38 1312.65,336.59 1313.25,335.79 1313.85,334.99 1314.45,334.18 1315.05,333.37 1315.65,332.56 1316.25,331.73 1316.85,330.91 1317.44,330.08 1318.04,329.24 1318.64,328.40 1319.24,327.55 1319.84,326.70 1320.44,325.84 1321.04,324.97 1321.64,324.10 1322.24,323.23 1322.84,322.35 1323.44,321.46 1324.04,320.57 1324.64,319.67 1325.24,318.76 1325.84,317.85 1326.43,316.93 1327.03,316.01 1327.63,315.08 1328.23,314.14 1328.83,313.19 1329.43,312.24 1330.03,311.28 1330.63,310.31 1331.23,309.34 1331.83,308.36 1332.43,307.36 1333.03,306.37 1333.63,305.36 1334.23,304.34 1334.83,303.32 1335.42,302.29 1336.02,301.24 1336.62,300.19 1337.22,299.13 1337.82,298.06 1338.42,296.98 1339.02,295.89 1339.62,294.78 1340.22,293.67 1340.82,292.54 1341.42,291.41 1342.02,290.26 1342.62,289.10 1343.22,287.92 1343.82,286.73 1344.41,285.53 1345.01,284.31 1345.61,283.08 1346.21,281.83 1346.81,280.56 1347.41,279.28 1348.01,277.98 1348.61,276.66 1349.21,275.32 1349.81,273.95 1350.41,272.57 1351.01,271.16 1351.61,269.72 1352.21,268.26 1352.81,266.76 1353.40,265.24 1354.00,263.68 1354.60,262.07 1355.20,260.43 1355.80,258.73 1356.40,256.98 1357.00,255.16 1357.60,253.26 1358.20,251.25 1358.80,249.11 1359.40,246.76 1360.00,243.85 1360.60,240.92 1361.20,238.58 1361.79,236.45 1362.39,234.47 1362.99,232.60 1363.59,230.80 1364.19,229.08 1364.79,227.42 1365.39,225.82 1365.99,224.26 1366.59,222.74 1367.19,221.26 1367.79,219.82 1368.39,218.41 1368.99,217.04 1369.59,215.69 1370.19,214.36 1370.78,213.07 1371.38,211.79 1371.98,210.54 1372.58,209.32 1373.18,208.11 1373.78,206.92 1374.38,205.75 1374.98,204.60 1375.58,203.46 1376.18,202.34 1376.78,201.24 1377.38,200.15 1377.98,199.08 1378.58,198.02 1379.18,196.98 1379.77,195.95 1380.37,194.93 1380.97,193.93 1381.57,192.93 1382.17,191.95 1382.77,190.98 1383.37,190.03 1383.97,189.08 1384.57,188.14 1385.17,187.22 1385.77,186.30 1386.37,185.40 1386.97,184.50 1387.57,183.62 1388.17,182.74 1388.76,181.87 1389.36,181.01 1389.96,180.16 1390.56,179.32 1391.16,178.49 1391.76,177.66 1392.36,176.84 1392.96,176.03 1393.56,175.23 1394.16,174.44 1394.76,173.65 1395.36,172.87 1395.96,172.10 1396.56,171.33 1397.16,170.57 1397.75,169.82 1398.35,169.07 1398.95,168.33 1399.55,167.60 1400.15,166.87 1400.75,166.15 1401.35,165.44 1401.95,164.73 1402.55,164.03 1403.15,163.33 1403.75,162.64 1404.35,161.96 1404.95,161.28 1405.55,160.60 1406.15,159.93 1406.74,159.27 1407.34,158.61 1407.94,157.96 1408.54,157.31 1409.14,156.66 1409.74,156.03 1410.34,155.39 1410.94,154.76 1411.54,154.14 1412.14,153.52 1412.74,152.91 1413.34,152.30 1413.94,151.69 1414.54,151.09 1415.14,150.49 1415.73,149.90 1416.33,149.31 1416.93,148.73 1417.53,148.15 1418.13,147.57 1418.73,147.00 1419.33,146.43 1419.93,145.87 1420.53,145.31 1421.13,144.75 1421.73,144.20 1422.33,143.65 1422.93,143.10 1423.53,142.56 1424.12,142.03 1424.72,141.49 1425.32,140.96 1425.92,140.43 1426.52,139.91 1427.12,139.39 1427.72,138.87 1428.32,138.36 1428.92,137.85 1429.52,137.34 1430.12,136.84 1430.72,136.34 1431.32,135.84 1431.92,135.35 1432.52,134.86 1433.11,134.37 1433.71,133.89 1434.31,133.40 1434.91,132.93 1435.51,132.45 1436.11,131.98 1436.71,131.51 1437.31,131.04 1437.91,130.58 1438.51,130.12 1439.11,129.66 1439.71,129.20 1440.31,128.75 1440.91,128.30 1441.51,127.85 1442.10,127.41 1442.70,126.96 1443.30,126.52 1443.90,126.09 1444.50,125.65 1445.10,125.22 1445.70,124.79 1446.30,124.36 1446.90,123.94 1447.50,123.52 1448.10,123.10 1448.70,122.68 1449.30,122.26 1449.90,121.85 1450.50,121.44 1451.09,121.03 1451.69,120.63 1452.29,120.22 1452.89,119.82 1453.49,119.42 1454.09,119.03 1454.69,118.63 1455.29,118.24 1455.89,117.85 1456.49,117.46 1457.09,117.08 1457.69,116.69 1458.29,116.31 1458.89,115.93 1459.49,115.55 1460.08,115.18 1460.68,114.80 1461.28,114.43 1461.88,114.06 1462.48,113.69 1463.08,113.33 1463.68,112.97 1464.28,112.60 1464.88,112.24 1465.48,111.89 1466.08,111.53 1466.68,111.17 1467.28,110.82 1467.88,110.47 1468.48,110.12 1469.07,109.78 1469.67,109.43 1470.27,109.09 1470.87,108.74 1471.47,108.40 1472.07,108.07 1472.67,107.73 1473.27,107.39 1473.87,107.06 1474.47,106.73 1475.07,106.40 1475.67,106.07 1476.27,105.75 1476.87,105.42 1477.46,105.10 1478.06,104.78 1478.66,104.46 1479.26,104.14 1479.86,103.82 1480.46,103.50 1481.06,103.19 1481.66,102.88 1482.26,102.57 1482.86,102.26 1483.46,101.95 1484.06,101.64 1484.66,101.34 1485.26,101.04 1485.86,100.73 1486.45,100.43 1487.05,100.13 1487.65,99.84 1488.25,99.54 1488.85,99.24 1489.45,98.95 1490.05,98.66 1490.65,98.37 1491.25,98.08 1491.85,97.79 1492.45,97.50 1493.05,97.22 1493.65,96.94 1494.25,96.65 1494.85,96.37 1495.44,96.09 1496.04,95.81 1496.64,95.54 1497.24,95.26 1497.84,94.98 1498.44,94.71 1499.04,94.44 1499.64,94.17 1500.24,93.90 1500.84,93.63 1501.44,93.36 1502.04,93.09 1502.64,92.83 1503.24,92.57 1503.84,92.30 1504.43,92.04 1505.03,91.78 1505.63,91.52 1506.23,91.26 1506.83,91.01 1507.43,90.75 1508.03,90.50 1508.63,90.24 1509.23,89.99 1509.83,89.74 1510.43,89.49 1511.03,89.24 1511.63,88.99 1512.23,88.74 1512.83,88.50 1513.42,88.25 1514.02,88.01 1514.62,87.77 1515.22,87.53 1515.82,87.29 1516.42,87.05 1517.02,86.81 1517.62,86.57 1518.22,86.33 1518.82,86.10 1519.42,85.86 1520.02,85.63 1520.62,85.40 1521.22,85.17 1521.82,84.93 1522.41,84.71 1523.01,84.48 1523.61,84.25 1524.21,84.02 1524.81,83.80 1525.41,83.57 1526.01,83.35 1526.61,83.13 1527.21,82.90 1527.81,82.68 1528.41,82.46 1529.01,82.24 1529.61,82.02 1530.21,81.81 1530.80,81.59 1531.40,81.37 1532.00,81.16 1532.60,80.95 1533.20,80.73 1533.80,80.52 1534.40,80.31 1535.00,80.10 1535.60,79.89 1536.20,79.68 1536.80,79.47 1537.40,79.27 1538.00,79.06 1538.60,78.85 1539.20,78.65 1539.79,78.45 1540.39,78.24 1540.99,78.04 1541.59,77.84 1542.19,77.64 1542.79,77.44 1543.39,77.24 1543.99,77.04 1544.59,76.84 1545.19,76.65 1545.79,76.45 1546.39,76.26 1546.99,76.06 1547.59,75.87 1548.19,75.68 1548.78,75.48 1549.38,75.29 1549.98,75.10 1550.58,74.91 1551.18,74.72 1551.78,74.53 1552.38,74.35 1552.98,74.16 1553.58,73.97 1554.18,73.79 1554.78,73.60 1555.38,73.42 1555.98,73.24 1556.58,73.05 1557.18,72.87 1557.77,72.69 1558.37,72.51 1558.97,72.33 1559.57,72.15 1560.17,71.97 1560.77,71.79 1561.37,71.62 1561.97,71.44 1562.57,71.26 1563.17,71.09 1563.77,70.92 1564.37,70.74 1564.97,70.57 1565.57,70.40 1566.17,70.22 1566.76,70.05 1567.36,69.88 1567.96,69.71 1568.56,69.54 1569.16,69.37 1569.76,69.21 1570.36,69.04 1570.96,68.87 1571.56,68.70 1572.16,68.54 1572.76,68.37 1573.36,68.21 1573.96,68.05 1574.56,67.88 1575.16,67.72 1575.75,67.56 1576.35,67.40 1576.95,67.23 1577.55,67.07 1578.15,66.91 1578.75,66.76 1579.35,66.60 1579.95,66.44 1580.55,66.28 1581.15,66.12 1581.75,65.97 1582.35,65.81 1582.95,65.66 1583.55,65.50 1584.14,65.35 1584.74,65.19 1585.34,65.04 1585.94,64.89 1586.54,64.74 1587.14,64.59 1587.74,64.43 1588.34,64.28 1588.94,64.13 1589.54,63.98 1590.14,63.84 1590.74,63.69 1591.34,63.54 1591.94,63.39 1592.54,63.25 1593.13,63.10 1593.73,62.95 1594.33,62.81 1594.93,62.66 1595.53,62.52 1596.13,62.38 1596.73,62.23 1597.33,62.09 1597.93,61.95 1598.53,61.81 1599.13,61.67 1599.73,61.52 1600.33,61.38 1600.93,61.24 1601.53,61.11 1602.12,60.97 1602.72,60.83 1603.32,60.69 1603.92,60.55 1604.52,60.42 1605.12,60.28 1605.72,60.14 1606.32,60.01 1606.92,59.87 1607.52,59.74 1608.12,59.60 1608.72,59.47 1609.32,59.34 1609.92,59.20 1610.52,59.07 1611.11,58.94 1611.71,58.81 1612.31,58.68 1612.91,58.55 1613.51,58.42 1614.11,58.29 1614.71,58.16 1615.31,58.03 1615.91,57.90 1616.51,57.77 1617.11,57.64 1617.71,57.52 1618.31,57.39 1618.91,57.26 1619.51,57.14 1620.10,57.01 1620.70,56.89 1621.30,56.76 1621.90,56.64 1622.50,56.51 1623.10,56.39 1623.70,56.27 1624.30,56.14 1624.90,56.02 1625.50,55.90 1626.10,55.78 1626.70,55.66 1627.30,55.54 1627.90,55.42 1628.50,55.30 1629.09,55.18 1629.69,55.06 1630.29,54.94 1630.89,54.82 1631.49,54.70 1632.09,54.58 1632.69,54.47 1633.29,54.35 1633.89,54.23 1634.49,54.12 1635.09,54.00 1635.69,53.89 1636.29,53.77 1636.89,53.66 1637.48,53.54 1638.08,53.43 1638.68,53.31 1639.28,53.20 1639.88,53.09 1640.48,52.98 1641.08,52.86 1641.68,52.75 1642.28,52.64 1642.88,52.53 1643.48,52.42 1644.08,52.31 1644.68,52.20 1645.28,52.09 1645.88,51.98 1646.47,51.87 1647.07,51.76 1647.67,51.65 1648.27,51.54 1648.87,51.44 1649.47,51.33 1650.07,51.22 1650.67,51.11 1651.27,51.01 1651.87,50.90 1652.47,50.80 1653.07,50.69 1653.67,50.59 1654.27,50.48 1654.87,50.38 1655.46,50.27 1656.06,50.17 1656.66,50.06 1657.26,49.96 1657.86,49.86 1658.46,49.76 1659.06,49.65 1659.66,49.55 1660.26,49.45 1660.86,49.35 1661.46,49.25 1662.06,49.15 1662.66,49.05 1663.26,48.95 1663.86,48.85 1664.45,48.75 1665.05,48.65 1665.65,48.55 1666.25,48.45 1666.85,48.35 1667.45,48.25 1668.05,48.16 1668.65,48.06 1669.25,47.96 1669.85,47.86 1670.45,47.77 1671.05,47.67 1671.65,47.57 1672.25,47.48 1672.85,47.38 1673.44,47.29 1674.04,47.19 1674.64,47.10 1675.24,47.00 1675.84,46.91 1676.44,46.82 1677.04,46.72 1677.64,46.63 1678.24,46.54 1678.84,46.44 1679.44,46.35 1680.04,46.26 1680.64,46.17 1681.24,46.08 1681.84,45.98 1682.43,45.89 1683.03,45.80 1683.63,45.71 1684.23,45.62 1684.83,45.53 1685.43,45.44 1686.03,45.35 1686.63,45.26 1687.23,45.17 1687.83,45.08 1688.43,45.00 1689.03,44.91 1689.63,44.82 1690.23,44.73 1690.83,44.64 1691.42,44.56 1692.02,44.47 1692.62,44.38 1693.22,44.30 1693.82,44.21 1694.42,44.12 1695.02,44.04 1695.62,43.95 1696.22,43.87 1696.82,43.78 1697.42,43.70 1698.02,43.61 1698.62,43.53 1699.22,43.44 1699.81,43.36 1700.41,43.28 1701.01,43.19 1701.61,43.11 1702.21,43.03 1702.81,42.94 1703.41,42.86 1704.01,42.78 1704.61,42.70 1705.21,42.62 1705.81,42.53 1706.41,42.45 1707.01,42.37 1707.61,42.29 1708.21,42.21 1708.80,42.13 1709.40,42.05 1710.00,41.97 1710.60,41.89 1711.20,41.81 1711.80,41.73 1712.40,41.65 1713.00,41.57 1713.60,41.49 1714.20,41.42 1714.80,41.34 1715.40,41.26 1716.00,41.18 1716.60,41.10 1717.20,41.03 1717.79,40.95 1718.39,40.87 1718.99,40.80 1719.59,40.72 1720.19,40.64" fill="none" stroke="#000" stroke-width="3.5" stroke-dasharray="11.3 4.58" stroke-dashoffset="-1.6" stroke-linejoin="round"/>
<g clip-path="url(#clip2)">
<circle cx="1080.9" cy="482" r="6.5" fill="#000" fill-opacity="0.6"/>
<circle cx="1160.6" cy="444.3" r="6.5" fill="#000" fill-opacity="0.6"/>
<circle cx="1239.9" cy="415.4" r="6.5" fill="#000" fill-opacity="0.6"/>
<circle cx="1319.5" cy="330.6" r="6.5" fill="#000" fill-opacity="0.6"/>
<circle cx="1398.9" cy="169.3" r="6.5" fill="#000" fill-opacity="0.6"/>
<circle cx="1478.6" cy="104.9" r="6.5" fill="#000" fill-opacity="0.6"/>
<circle cx="1637.6" cy="52.9" r="6.5" fill="#000" fill-opacity="0.6"/>
<circle cx="1080.9" cy="494.1" r="5.7" fill="#7cfc00" stroke="#008000" stroke-width="2.6"/>
<circle cx="1160.6" cy="476.8" r="5.7" fill="#7cfc00" stroke="#008000" stroke-width="2.6"/>
<circle cx="1239.9" cy="441.4" r="5.7" fill="#7cfc00" stroke="#008000" stroke-width="2.6"/>
<circle cx="1319.5" cy="361.8" r="5.7" fill="#7cfc00" stroke="#008000" stroke-width="2.6"/>
<circle cx="1398.9" cy="179.7" r="5.7" fill="#7cfc00" stroke="#008000" stroke-width="2.6"/>
<circle cx="1478.6" cy="115.9" r="5.7" fill="#7cfc00" stroke="#008000" stroke-width="2.6"/>
<circle cx="1637.6" cy="59.8" r="5.7" fill="#7cfc00" stroke="#008000" stroke-width="2.6"/>
<path d="M1072.5 502H1089.3M1080.9 493.6V510.4" fill="none" stroke="#ff0000" stroke-width="4.1"/>
<path d="M1152.2 482.2H1169M1160.6 473.8V490.6" fill="none" stroke="#ff0000" stroke-width="4.1"/>
<path d="M1231.5 442.7H1248.3M1239.9 434.3V451.1" fill="none" stroke="#ff0000" stroke-width="4.1"/>
<path d="M1311.1 361.8H1327.9M1319.5 353.4V370.2" fill="none" stroke="#ff0000" stroke-width="4.1"/>
<path d="M1390.5 179.7H1407.3M1398.9 171.3V188.1" fill="none" stroke="#ff0000" stroke-width="4.1"/>
<path d="M1470.2 115.9H1487M1478.6 107.5V124.3" fill="none" stroke="#ff0000" stroke-width="4.1"/>
<path d="M1629.2 59.8H1646M1637.6 51.4V68.2" fill="none" stroke="#ff0000" stroke-width="4.1"/>
</g>
<path d="M1001.6 525.4v11.0M1180.8 525.4v11.0M1360 525.4v11.0M1539.2 525.4v11.0M1718.4 525.4v11.0M1001.6 102.55h-11.0M1001.6 207.59h-11.0M1001.6 312.63h-11.0M1001.6 417.67h-11.0M1001.6 522.71h-11.0" stroke="#000" stroke-width="2.5" fill="none"/>
<rect x="1001.6" y="0.85" width="718.9" height="524.55" fill="none" stroke="#000" stroke-width="2.5"/>
<text transform="translate(1001.9 567.9) scale(1 1.02)" font-size="30" text-anchor="middle" >0</text>
<text transform="translate(1181.1 567.9) scale(1 1.02)" font-size="30" text-anchor="middle" >1</text>
<text transform="translate(1360.3 567.9) scale(1 1.02)" font-size="30" text-anchor="middle" >2</text>
<text transform="translate(1539.5 567.9) scale(1 1.02)" font-size="30" text-anchor="middle" >3</text>
<text transform="translate(1718.7 567.9) scale(1 1.02)" font-size="30" text-anchor="middle" >4</text>
<text transform="translate(980.4 113.85) scale(1.015 1.045)" font-size="30" text-anchor="end" >0.02</text>
<text transform="translate(905.3 115.75) scale(1.28 1)" x="0" y="0" font-size="30">−</text>
<text transform="translate(980.4 218.89) scale(1.015 1.045)" font-size="30" text-anchor="end" >0.04</text>
<text transform="translate(905.3 220.79) scale(1.28 1)" x="0" y="0" font-size="30">−</text>
<text transform="translate(980.4 323.93) scale(1.015 1.045)" font-size="30" text-anchor="end" >0.06</text>
<text transform="translate(905.3 325.83) scale(1.28 1)" x="0" y="0" font-size="30">−</text>
<text transform="translate(980.4 428.97) scale(1.015 1.045)" font-size="30" text-anchor="end" >0.08</text>
<text transform="translate(905.3 430.87) scale(1.28 1)" x="0" y="0" font-size="30">−</text>
<text transform="translate(980.4 534.01) scale(1.015 1.045)" font-size="30" text-anchor="end" >0.10</text>
<text transform="translate(905.3 535.91) scale(1.28 1)" x="0" y="0" font-size="30">−</text>
<g font-size="30">
<text transform="translate(1332.6 607.8) scale(0.93 1)" font-size="30" text-anchor="start" font-style="italic">q</text>
<text transform="translate(1348.6 614.3) scale(0.95 1)" font-size="45" text-anchor="start" >/</text>
<text transform="translate(1362.3 607.8) scale(0.93 1)" font-size="30" text-anchor="start" font-style="italic">q</text>
<text transform="translate(1376.9 612.2) scale(1.2 1)" font-size="21" text-anchor="start" font-style="italic">F</text>
</g>
<text transform="translate(22.8 288.3) rotate(-90) scale(1.075 1)" font-size="30" font-style="italic">χ</text>
<text transform="translate(23.1 271.3) rotate(-90) scale(0.95 1.09)" font-size="30">(</text>
<text transform="translate(22.8 261) rotate(-90) scale(0.976 1)" font-size="30" font-style="italic">q</text>
<text transform="translate(23.1 246.2) rotate(-90) scale(0.95 1.09)" font-size="30">)</text>
<text transform="translate(885.3 304.6) rotate(-90) scale(1.075 1)" font-size="30" font-style="italic">χ</text>
<text transform="translate(889.8 289.6) rotate(-90) scale(1.13 1.06)" font-size="21">K</text>
<text transform="translate(889.8 270.9) rotate(-90) scale(1.1 1.06)" font-size="21">S</text>
<text transform="translate(885.7 254.6) rotate(-90) scale(0.95 1.09)" font-size="30">(</text>
<text transform="translate(885.3 244.7) rotate(-90) scale(0.976 1)" font-size="30" font-style="italic">q</text>
<text transform="translate(885.7 229.85) rotate(-90) scale(0.95 1.09)" font-size="30">)</text>
<rect x="159.8" y="439" width="48.4" height="44.2" rx="7.5" ry="7.5" fill="#fff" stroke="#333" stroke-width="3.4"/>
<text transform="translate(168.6 468.9) scale(1.04 1.1)" font-size="30" text-anchor="start" >Al</text>
<rect x="1041.4" y="65.45" width="207.8" height="169.55" rx="3.2" ry="3.2" fill="#fff" fill-opacity="0.8" stroke="#cccccc" stroke-opacity="0.8" stroke-width="2.8"/>
<circle cx="1059.4" cy="82.1" r="5.7" fill="#7cfc00" stroke="#008000" stroke-width="2.6"/>
<path d="M1051 115.5H1067.8M1059.4 107.1V123.9" fill="none" stroke="#ff0000" stroke-width="4.1"/>
<circle cx="1059.4" cy="148.9" r="6.5" fill="#000" fill-opacity="0.6"/>
<path d="M1059.4 175.35L1067.5 183.45L1059.4 191.55L1051.3 183.45Z" fill="none" stroke="#ffa500" stroke-width="4.3" stroke-linejoin="round"/>
<path d="M1047.2 215.8H1071.6" stroke="#000" stroke-width="3.5" stroke-dasharray="10.7 3.2" fill="none"/>
<text x="1076.8" y="89.3" font-size="25" textLength="111.2" lengthAdjust="spacingAndGlyphs">KS : PAW</text>
<text x="1076.8" y="122.1" font-size="25" textLength="103.5" lengthAdjust="spacingAndGlyphs">KS : USP</text>
<text x="1076.8" y="155.6" font-size="25" textLength="104.4" lengthAdjust="spacingAndGlyphs">KS : BLP</text>
<text x="1076.8" y="190" font-size="25" textLength="164.9" lengthAdjust="spacingAndGlyphs">OF[WT] : BLP</text>
<text x="1076.8" y="224.5" font-size="25" textLength="54.6" lengthAdjust="spacingAndGlyphs">UEG</text>
</svg>
</body></html>
